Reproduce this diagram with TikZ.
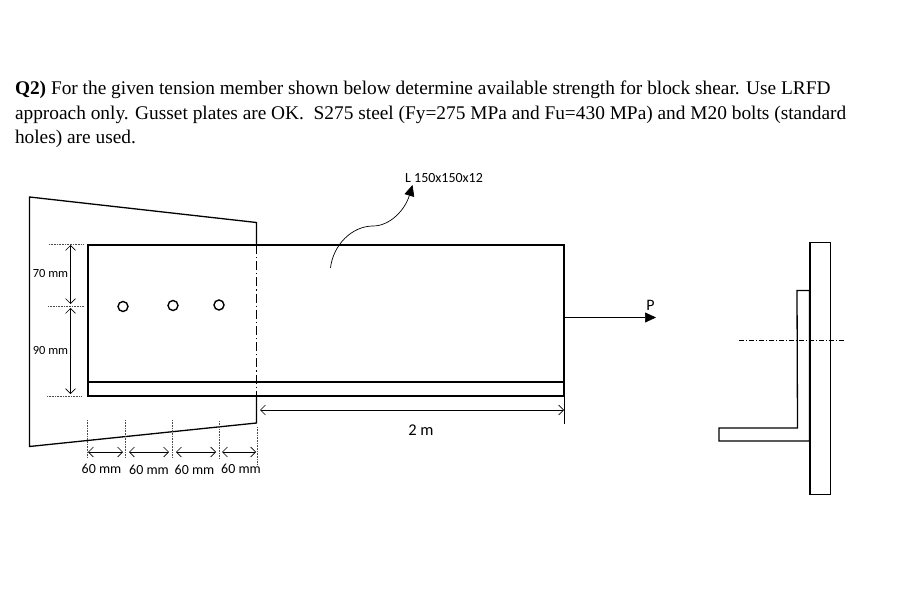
\documentclass[tikz,border=0pt]{standalone}
\usepackage{fontspec}
\setmainfont{Liberation Serif}
\newfontfamily\lblfont{Carlito}
\usetikzlibrary{arrows.meta}
\tikzset{
  x=1bp,y=-1bp,
  every node/.style={inner sep=0pt,outer sep=0pt},
  obj/.style={draw=black,line width=1.3bp},
  thin obj/.style={draw=black,line width=1.1bp},
  hole/.style={circle,draw=black,line width=1.4bp,minimum size=10bp},
  guide/.style={draw=black!70,line width=.6bp,densely dotted},
  dim/.style={draw=black,line width=.7bp,{Straight Barb[length=5bp,width=10bp,line width=.6bp]}-{Straight Barb[length=5bp,width=10bp,line width=.6bp]}},
  center line/.style={draw=black,line width=1bp,dash pattern=on 9bp off 3bp on 1.2bp off 3bp},
  leader/.style={line width=.7bp,-{Triangle[length=11bp,width=10bp]}},
  para/.style={anchor=base west,font=\fontsize{19.43}{22}\selectfont},
  lbl/.style={font=\lblfont\fontsize{14}{16}\selectfont,anchor=center},
  smlbl/.style={font=\lblfont\fontsize{12.5}{14}\selectfont,anchor=center,fill=white,inner sep=1pt},
  bigl/.style={font=\lblfont\fontsize{16.5}{18}\selectfont,anchor=center}
}
\begin{document}
\begin{tikzpicture}
\useasboundingbox (0,0) rectangle (924,599);
\fill[white] (0,0) rectangle (924,599);
% question text
\node[para] (t1) at (15,94.5) {\textbf{Q2)} For the given tension member shown below determine available strength for block shear. Use LRFD};
\node[para] (t2) at (15,119.5) {approach only. Gusset plates are OK. \ S275 steel (Fy=275 MPa and Fu=430 MPa) and M20 bolts (standard};
\node[para] (t3) at (15,144) {holes) are used.};
% gusset
\draw[obj] (256.5,245) -- (256.5,222.5) -- (29.5,197) -- (29.5,446.5) -- (256.5,423) -- (256.5,396);
% angle
\node[obj,draw,minimum width=476bp,minimum height=151bp,anchor=north west] (angle) at (88,245) {};
\coordinate (legL) at (88,382);
\coordinate (legR) at (564,382);
\draw[thin obj] (legL) -- (legR);
% centre line
\draw[center line] (256.5,245) -- (256.5,396);
% holes
\node[hole] (h1) at (123,306.5) {};
\node[hole] (h2) at (173,305.5) {};
\node[hole] (h3) at (219,305) {};
% left dims
\coordinate (a1) at (49,244.5); \coordinate (a2) at (84,244.5);
\coordinate (b1) at (48,306); \coordinate (b2) at (84,306);
\coordinate (c1) at (47,396); \coordinate (c2) at (82,396);
\draw[guide] (a1) -- (a2);
\draw[guide] (b1) -- (b2);
\draw[guide] (c1) -- (c2);
\coordinate (d1) at (70.5,245); \coordinate (d2) at (70.5,304);
\coordinate (d3) at (70.5,308); \coordinate (d4) at (70.5,394);
\draw[dim] (d1) -- (d2);
\draw[dim] (d3) -- (d4);
\node[smlbl] (l70) at (50.5,274) {70 mm};
\node[smlbl] (l90) at (50.5,350.5) {90 mm};
% bottom dims
\foreach \n/\x/\ya/\yb in {g1/87.5/420/458,g2/125/420/458,g3/172.5/420/458,g4/219.5/421/458,g5/257.5/427/465}{
  \coordinate (\n a) at (\x,\ya); \coordinate (\n b) at (\x,\yb);
  \draw[guide] (\n a) -- (\n b);
}
\foreach \n/\xa/\xb in {e1/88/123,e2/129/169,e3/176/216,e4/222/256}{
  \coordinate (\n a) at (\xa,452); \coordinate (\n b) at (\xb,452);
  \draw[dim] (\n a) -- (\n b);
}
\node[lbl] (m1) at (101.5,468.5) {60 mm};
\node[lbl] (m2) at (149,470) {60 mm};
\node[lbl] (m3) at (194.5,470) {60 mm};
\node[lbl] (m4) at (241,469) {60 mm};
% 2 m
\coordinate (s1) at (260,410); \coordinate (s2) at (564,410);
\coordinate (t0) at (564.5,396); \coordinate (t00) at (564.5,424);
\draw[dim] (s1) -- (s2);
\draw[line width=.9bp] (t0) -- (t00);
\node[bigl] (two) at (421,430) {2 m};
% label arrow
\node[lbl] (L) at (444,178.5) {L 150x150x12};
\coordinate (c0) at (330.5,268);
\coordinate (c3) at (412.5,185);
\draw[leader] (c0) .. controls (333,245) and (352,226) .. (373,226) .. controls (390,226) and (405,210) .. (c3);
% load
\coordinate (p0) at (564,317.5);
\coordinate (p1) at (656,317.5);
\draw[leader] (p0) -- (p1);
\node[lbl,font=\lblfont\fontsize{16}{18}\selectfont] (P) at (650.5,305) {P};
% section
\node[obj,draw,minimum width=20.5bp,minimum height=252bp,anchor=north west] (plate) at (810,242.5) {};
\draw[obj] (809.5,290.5) -- (797,290.5) -- (797.5,428) -- (719,428) -- (719,441) -- (809.5,441) -- cycle;
\coordinate (q0) at (739,340); \coordinate (q1) at (844,340);
\draw[draw=black,line width=.6bp,dash pattern=on 5bp off 2bp on 1bp off 2bp] (q0) -- (q1);
\end{tikzpicture}
\end{document}
